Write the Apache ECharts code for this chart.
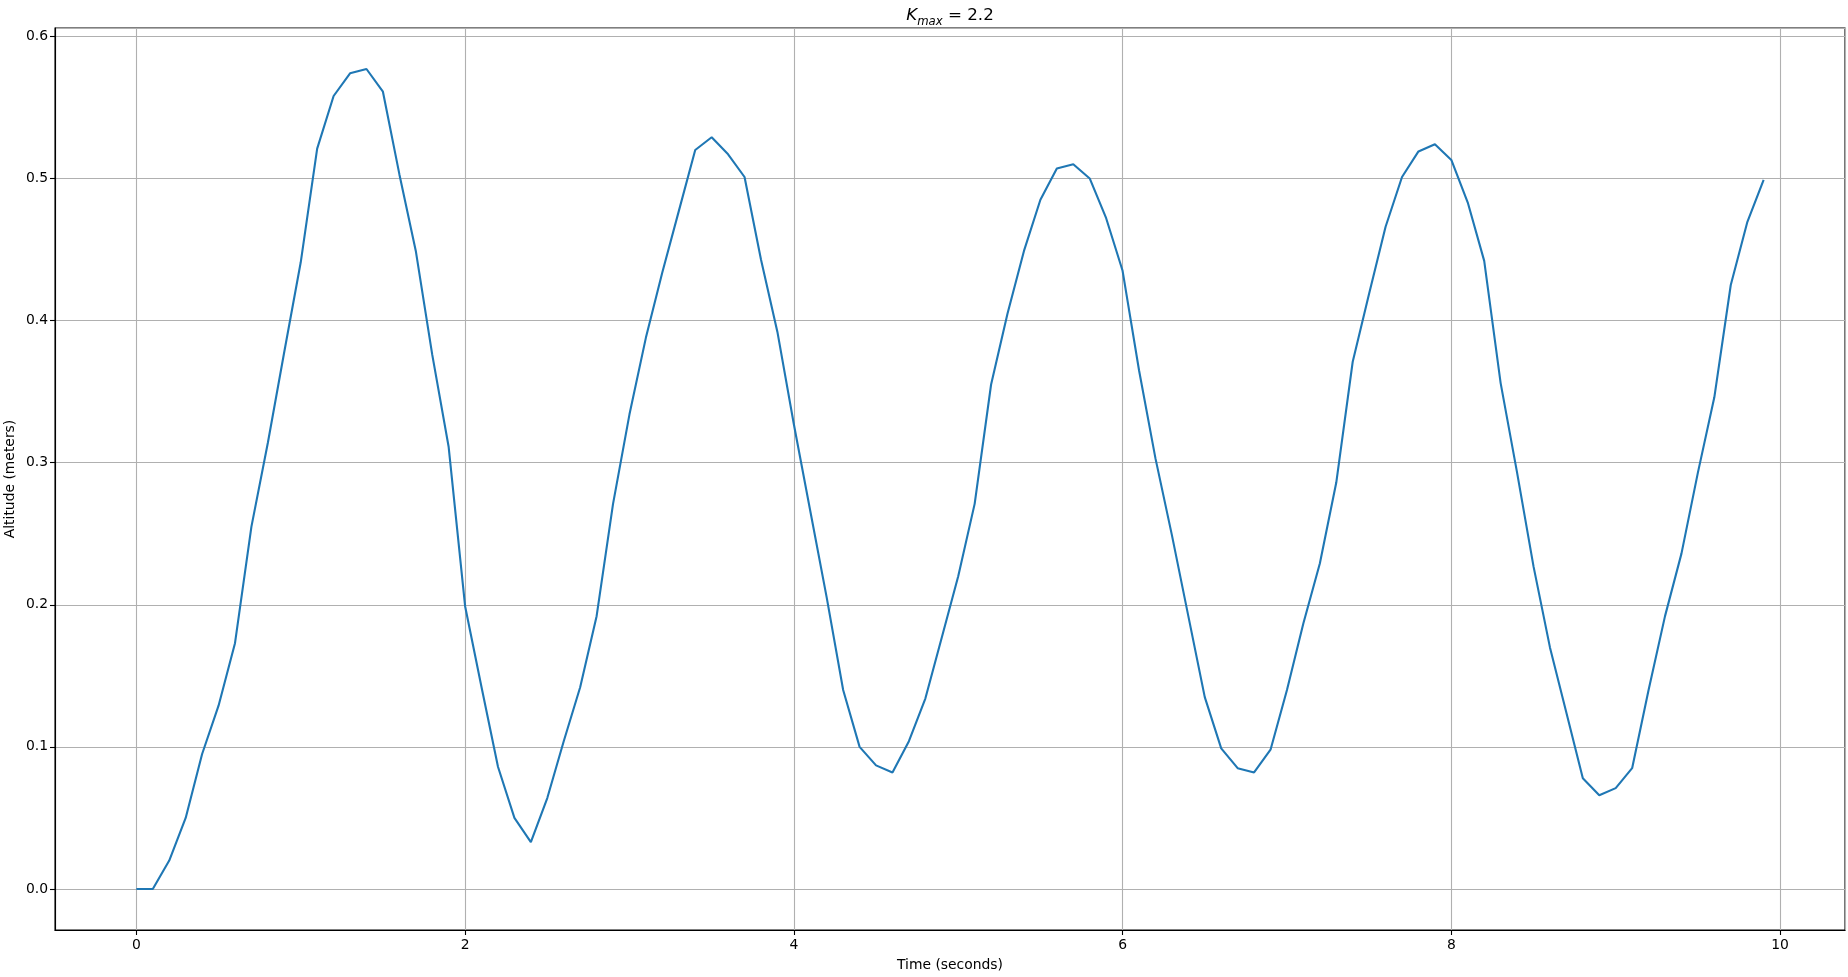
<!DOCTYPE html>
<html>
<head>
<meta charset="utf-8">
<script src="https://cdn.jsdelivr.net/npm/echarts@6/dist/echarts.min.js"></script>
<style>
html,body{margin:0;padding:0;background:#fff;}
#chart{width:1848px;height:977px;}
</style>
</head>
<body>
<div id="chart"></div>
<script>
const titleMain = 'K';
const titleSub = 'max';
const titleValue = ' = 2.2';
const xLabel = 'Time (seconds)';
const yLabel = 'Altitude (meters)';

const time = [0.0,0.1,0.2,0.3,0.4,0.5,0.6,0.7,0.8,0.9,1.0,1.1,1.2,1.3,1.4,1.5,1.6,1.7,1.8,1.9,
2.0,2.1,2.2,2.3,2.4,2.5,2.6,2.7,2.8,2.9,3.0,3.1,3.2,3.3,3.4,3.5,3.6,3.7,3.8,3.9,
4.0,4.1,4.2,4.3,4.4,4.5,4.6,4.7,4.8,4.9,5.0,5.1,5.2,5.3,5.4,5.5,5.6,5.7,5.8,5.9,
6.0,6.1,6.2,6.3,6.4,6.5,6.6,6.7,6.8,6.9,7.0,7.1,7.2,7.3,7.4,7.5,7.6,7.7,7.8,7.9,
8.0,8.1,8.2,8.3,8.4,8.5,8.6,8.7,8.8,8.9,9.0,9.1,9.2,9.3,9.4,9.5,9.6,9.7,9.8,9.9];

const altitude = [0,0,0.020,0.050,0.095,0.129,0.173,0.255,0.314,0.378,
0.441,0.521,0.558,0.574,0.577,0.561,0.503,0.449,0.376,0.311,
0.199,0.142,0.086,0.050,0.033,0.064,0.104,0.142,0.192,0.271,
0.334,0.388,0.434,0.477,0.520,0.529,0.517,0.501,0.443,0.392,
0.327,0.266,0.205,0.140,0.100,0.087,0.082,0.104,0.134,0.177,
0.220,0.271,0.355,0.405,0.449,0.485,0.507,0.510,0.500,0.472,
0.435,0.365,0.303,0.249,0.192,0.135,0.099,0.085,0.082,0.098,
0.140,0.187,0.229,0.286,0.371,0.419,0.466,0.501,0.519,0.524,
0.513,0.483,0.442,0.356,0.293,0.227,0.170,0.124,0.078,0.066,
0.071,0.085,0.140,0.192,0.236,0.293,0.346,0.425,0.469,0.499];

const xRange = [-0.495, 10.395];
const yRange = [-0.02885, 0.60585];

const data = time.map((t, i) => [t, altitude[i]]);
const font = 'DejaVu Sans';

const chart = echarts.init(document.getElementById('chart'), null, {renderer: 'canvas'});
chart.setOption({
  animation: false,
  backgroundColor: '#ffffff',
  title: {
    text: '{k|' + titleMain + '}{s|' + titleSub + '}{n|' + titleValue + '}',
    left: 945,
    top: -1,
    textAlign: 'center',
    textStyle: {
      fontWeight: 'normal',
      rich: {
        k: {fontFamily: font, fontSize: 16.7, fontStyle: 'italic', fontWeight: 'normal', color: '#000', verticalAlign: 'bottom', lineHeight: 20},
        s: {fontFamily: font, fontSize: 11.7, fontStyle: 'italic', fontWeight: 'normal', color: '#000', verticalAlign: 'bottom', lineHeight: 14, padding: [0,0,-4,0]},
        n: {fontFamily: font, fontSize: 16.7, fontWeight: 'normal', color: '#000', verticalAlign: 'bottom', lineHeight: 20}
      }
    }
  },
  grid: {left: 55, right: 3, top: 28, bottom: 47, containLabel: false, outerBoundsMode: 'none', show: true, borderColor: '#000', borderWidth: 1.1},
  xAxis: {
    type: 'value',
    min: xRange[0],
    max: xRange[1],
    splitNumber: 5,
    name: xLabel,
    nameLocation: 'middle',
    nameGap: 28,
    nameMoveOverlap: false,
    nameTextStyle: {fontFamily: font, fontSize: 13.9, color: '#000'},
    axisLine: {show: true, onZero: false, lineStyle: {color: '#000', width: 1.1}},
    axisTick: {show: true, length: 5, lineStyle: {color: '#000', width: 1.1}},
    axisLabel: {
      show: true, margin: 8, fontFamily: font, fontSize: 13.9, color: '#000',
      showMinLabel: false, showMaxLabel: false,
      formatter: v => String(Math.round(v))
    },
    splitLine: {show: true, lineStyle: {color: '#b0b0b0', width: 1.1}}
  },
  yAxis: {
    type: 'value',
    min: yRange[0],
    max: yRange[1],
    splitNumber: 5,
    name: yLabel,
    nameLocation: 'middle',
    nameGap: 38,
    nameMoveOverlap: false,
    nameRotate: 90,
    nameTextStyle: {fontFamily: font, fontSize: 13.9, color: '#000'},
    axisLine: {show: true, onZero: false, lineStyle: {color: '#000', width: 1.1}},
    axisTick: {show: true, length: 5, lineStyle: {color: '#000', width: 1.1}},
    axisLabel: {
      show: true, margin: 7, fontFamily: font, fontSize: 13.9, color: '#000',
      showMinLabel: false, showMaxLabel: false,
      formatter: v => v.toFixed(1)
    },
    splitLine: {show: true, lineStyle: {color: '#b0b0b0', width: 1.1}}
  },
  series: [{
    type: 'line',
    data: data,
    showSymbol: false,
    symbol: 'none',
    smooth: false,
    lineStyle: {color: '#1f77b4', width: 2.1},
    itemStyle: {color: '#1f77b4'},
    z: 3
  }]
});
</script>
</body>
</html>
